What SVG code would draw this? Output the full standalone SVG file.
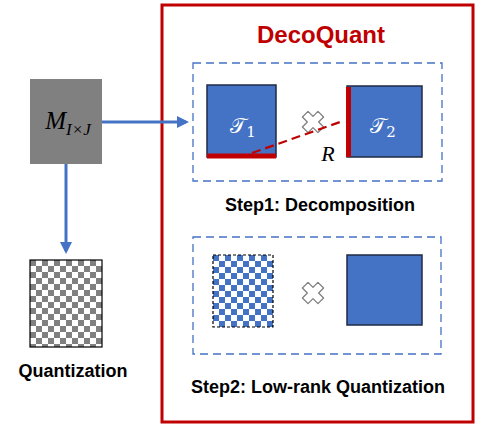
<svg xmlns="http://www.w3.org/2000/svg" width="481" height="429" viewBox="0 0 481 429">
<style>
.lbl{font-family:"Liberation Sans",Arial,sans-serif;font-weight:bold;fill:#000;text-anchor:middle}
.math{font-family:"Liberation Serif","DejaVu Serif",serif;font-style:italic}
.dbox{fill:none;stroke:#4472C4;stroke-width:1.3;stroke-dasharray:8 5}
.blue{fill:#4472C4;stroke:#1F2A44;stroke-width:1.5}
.conn{stroke:#4472C4;stroke-width:3;fill:none}
.cross{fill:#fff;stroke:#808080;stroke-width:1.3;stroke-linejoin:round}
</style>
<defs>
<marker id="ah" markerWidth="4" markerHeight="4" refX="3" refY="2" orient="auto" markerUnits="strokeWidth">
<path d="M0,0 L4,2 L0,4 Z" fill="#4472C4"/>
</marker>
<pattern id="chkGray" x="30" y="260" width="12" height="12" patternUnits="userSpaceOnUse">
<rect width="12" height="12" fill="#fff"/>
<rect width="6" height="6" fill="#808080"/>
<rect x="6" y="6" width="6" height="6" fill="#808080"/>
</pattern>
<pattern id="chkBlue" x="213" y="255" width="12" height="12" patternUnits="userSpaceOnUse">
<rect width="12" height="12" fill="#fff"/>
<rect width="6" height="6" fill="#4472C4"/>
<rect x="6" y="6" width="6" height="6" fill="#4472C4"/>
</pattern>
<path id="xmark" d="M-4,-11 L4,-11 L4,-4 L11,-4 L11,4 L4,4 L4,11 L-4,11 L-4,4 L-11,4 L-11,-4 L-4,-4 Z" transform="rotate(45)"/>
</defs>
<rect width="481" height="429" fill="#fff"/>

<g id="decoquant-frame">
<rect x="162" y="5" width="311" height="417" fill="none" stroke="#C00000" stroke-width="3"/>
<text x="321" y="43" font-family="Liberation Sans,Arial,sans-serif" font-weight="bold" font-size="24" fill="#C00000" text-anchor="middle">DecoQuant</text>
</g>

<g id="step1">
<rect class="dbox" x="193" y="63" width="249" height="118"/>
<text class="lbl" x="320" y="211" font-size="18">Step1: Decomposition</text>
</g>

<g id="step2">
<rect class="dbox" x="193" y="237" width="248" height="117"/>
<text class="lbl" x="318" y="393" font-size="18">Step2: Low-rank Quantization</text>
</g>

<g id="matrix-M">
<rect x="30" y="79" width="72" height="85" fill="#808080"/>
<text class="math" x="68" y="129" text-anchor="middle" fill="#000"><tspan font-size="25">M</tspan><tspan font-size="17" dy="6">I×J</tspan></text>
</g>

<g id="quantized">
<rect x="30" y="260" width="72" height="87" fill="url(#chkGray)" stroke="#000" stroke-width="1.2"/>
<text class="lbl" x="73" y="377" font-size="18">Quantization</text>
</g>

<g id="T1">
<rect class="blue" x="207" y="85" width="69" height="72"/>
<line x1="207" y1="156" x2="276" y2="156" stroke="#C00000" stroke-width="5"/>
<text x="243" y="133" fill="#fff" text-anchor="middle" font-family="DejaVu Serif,serif"><tspan font-size="21">𝒯</tspan><tspan font-size="15" dy="4">1</tspan></text>
</g>

<g id="T2">
<rect class="blue" x="347" y="86" width="75" height="71"/>
<line x1="348.5" y1="87" x2="348.5" y2="157" stroke="#C00000" stroke-width="5"/>
<text x="383" y="133" fill="#fff" text-anchor="middle" font-family="DejaVu Serif,serif"><tspan font-size="21">𝒯</tspan><tspan font-size="15" dy="4">2</tspan></text>
</g>

<g id="mult1">
<use href="#xmark" class="cross" transform="translate(313,122)"/>
</g>

<g id="R-label">
<text class="math" x="328" y="161" font-size="22" text-anchor="middle" fill="#000">R</text>
</g>

<g id="Q-lowrank">
<rect x="213" y="255" width="60" height="72" fill="url(#chkBlue)" stroke="#000" stroke-width="1.2" stroke-dasharray="3 2"/>
</g>

<g id="mult2">
<use href="#xmark" class="cross" transform="translate(313,293)"/>
</g>

<g id="B-lowrank">
<rect class="blue" x="347" y="255" width="75" height="70"/>
</g>

<g id="connectors">
<line class="conn" x1="102" y1="122" x2="186" y2="122" marker-end="url(#ah)"/>
<line class="conn" x1="66" y1="164" x2="66" y2="251" marker-end="url(#ah)"/>
<line x1="252" y1="153" x2="343" y2="121" stroke="#C00000" stroke-width="2.2" stroke-dasharray="9 5"/>
</g>
</svg>
